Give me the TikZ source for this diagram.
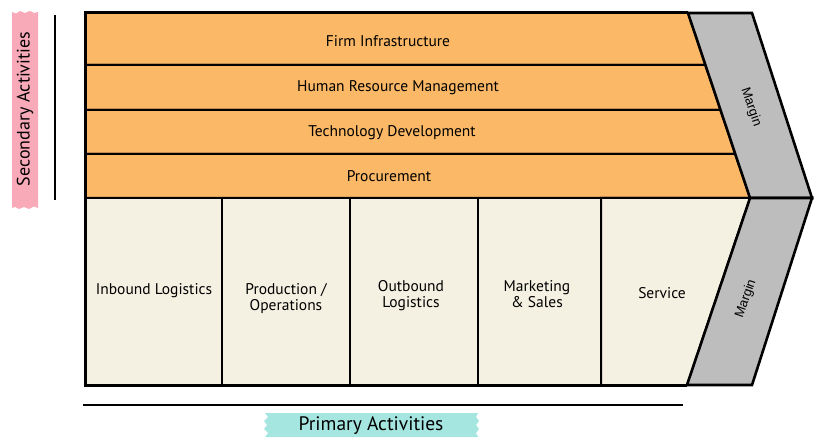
\documentclass[tikz,border=0pt]{standalone}
\usepackage{fontspec}
\setmainfont{PT Sans}
\newfontfamily\marginfont{Liberation Sans}
\begin{document}
\begin{tikzpicture}[x=1pt,y=-1pt,
  bar/.style={draw=black,line width=2pt,fill=orangebar},
  prim/.style={draw=black,line width=2pt,fill=beigebox},
  marg/.style={draw=black,line width=2.6pt,fill=graybox,line join=miter},
  lbl/.style={font=\fontsize{15.5}{16}\selectfont,align=center,text=black,inner sep=1pt},
  mlbl/.style={font=\marginfont\fontsize{13}{13}\selectfont,text=black,inner sep=0pt},
  tapetext/.style={font=\fontsize{18}{19}\selectfont,text=black,inner sep=1pt}]
\definecolor{orangebar}{HTML}{FBB866}
\definecolor{beigebox}{HTML}{F5F1E2}
\definecolor{graybox}{HTML}{BDBDBD}
\definecolor{pinktape}{HTML}{F8AAB9}
\definecolor{cyantape}{HTML}{A6E6E1}
\useasboundingbox (0,0) rectangle (829,446);
% secondary rows
\draw[bar] (85,13) -- (688,13) -- ({688+62*52/185},65) -- (85,65) -- cycle;
\draw[bar] (85,65) -- ({688+62*52/185},65) -- ({688+62*97/185},110) -- (85,110) -- cycle;
\draw[bar] (85,110) -- ({688+62*97/185},110) -- ({688+62*141/185},154) -- (85,154) -- cycle;
\draw[bar] (85,154) -- ({688+62*141/185},154) -- (750,198) -- (85,198) -- cycle;
% primary columns
\draw[prim] (85,198) rectangle (222,385);
\draw[prim] (222,198) rectangle (350,385);
\draw[prim] (350,198) rectangle (478,385);
\draw[prim] (478,198) rectangle (601,385);
\draw[prim] (601,198) -- (750,198) -- (687,385) -- (601,385) -- cycle;
% margins
\draw[marg] (688,13) -- (752,13) -- (812,198) -- (750,198) -- cycle;
\draw[marg] (750,198) -- (812,198) -- (752,385) -- (687,385) -- cycle;
% outer border
\draw[line width=3pt,line join=miter] (85,13) -- (688,13) (85,11.5) -- (85,386.5) (83.5,385) -- (687,385);
% labels
\node[lbl] (firm) at (388,41) {Firm Infrastructure};
\node[lbl] (hrm) at (398,88) {Human Resource Management};
\node[lbl] (tech) at (392,133) {Technology Development};
\node[lbl] (proc) at (389,176) {Procurement};
\node[lbl] (inb) at (154,291) {Inbound Logistics};
\node[lbl] (prod) at (286,299) {Production /\\Operations};
\node[lbl] (outb) at (411,296) {Outbound\\Logistics};
\node[lbl] (mkt) at (537,294) {Marketing\\\&{} Sales};
\node[lbl] (serv) at (662,293) {Service};
\node[mlbl,rotate=-71] (m1) at (751,107) {Margin};
\node[mlbl,rotate=71] (m2) at (746,299) {Margin};
% secondary activities tape
\fill[pinktape] (12,12) -- (16,13.5) -- (20,11) -- (25,13) -- (30,11) -- (34,13) -- (38,12)
  -- (38,208) -- (34,206.5) -- (29,209) -- (24,207) -- (19,209) -- (15,207) -- (12,208) -- cycle;
\node[tapetext,rotate=90] (sec) at (25,109) {Secondary Activities};
\draw[line width=2.5pt] (55,15) coordinate (s1) -- (55,200) coordinate (s2);
% primary activities tape
\fill[cyantape] (265,413) -- (478,413) -- (476,417) -- (479,421) -- (476,425) -- (479,429) -- (476,433) -- (478,437)
  -- (265,437) -- (268,433) -- (264,429) -- (267,425) -- (264,421) -- (268,417) -- cycle;
\node[font=\fontsize{19.5}{20}\selectfont,inner sep=1pt] (pri) at (371,426) {Primary Activities};
\draw[line width=2.5pt] (83,405) coordinate (p1) -- (683,405) coordinate (p2);
\end{tikzpicture}
\end{document}
